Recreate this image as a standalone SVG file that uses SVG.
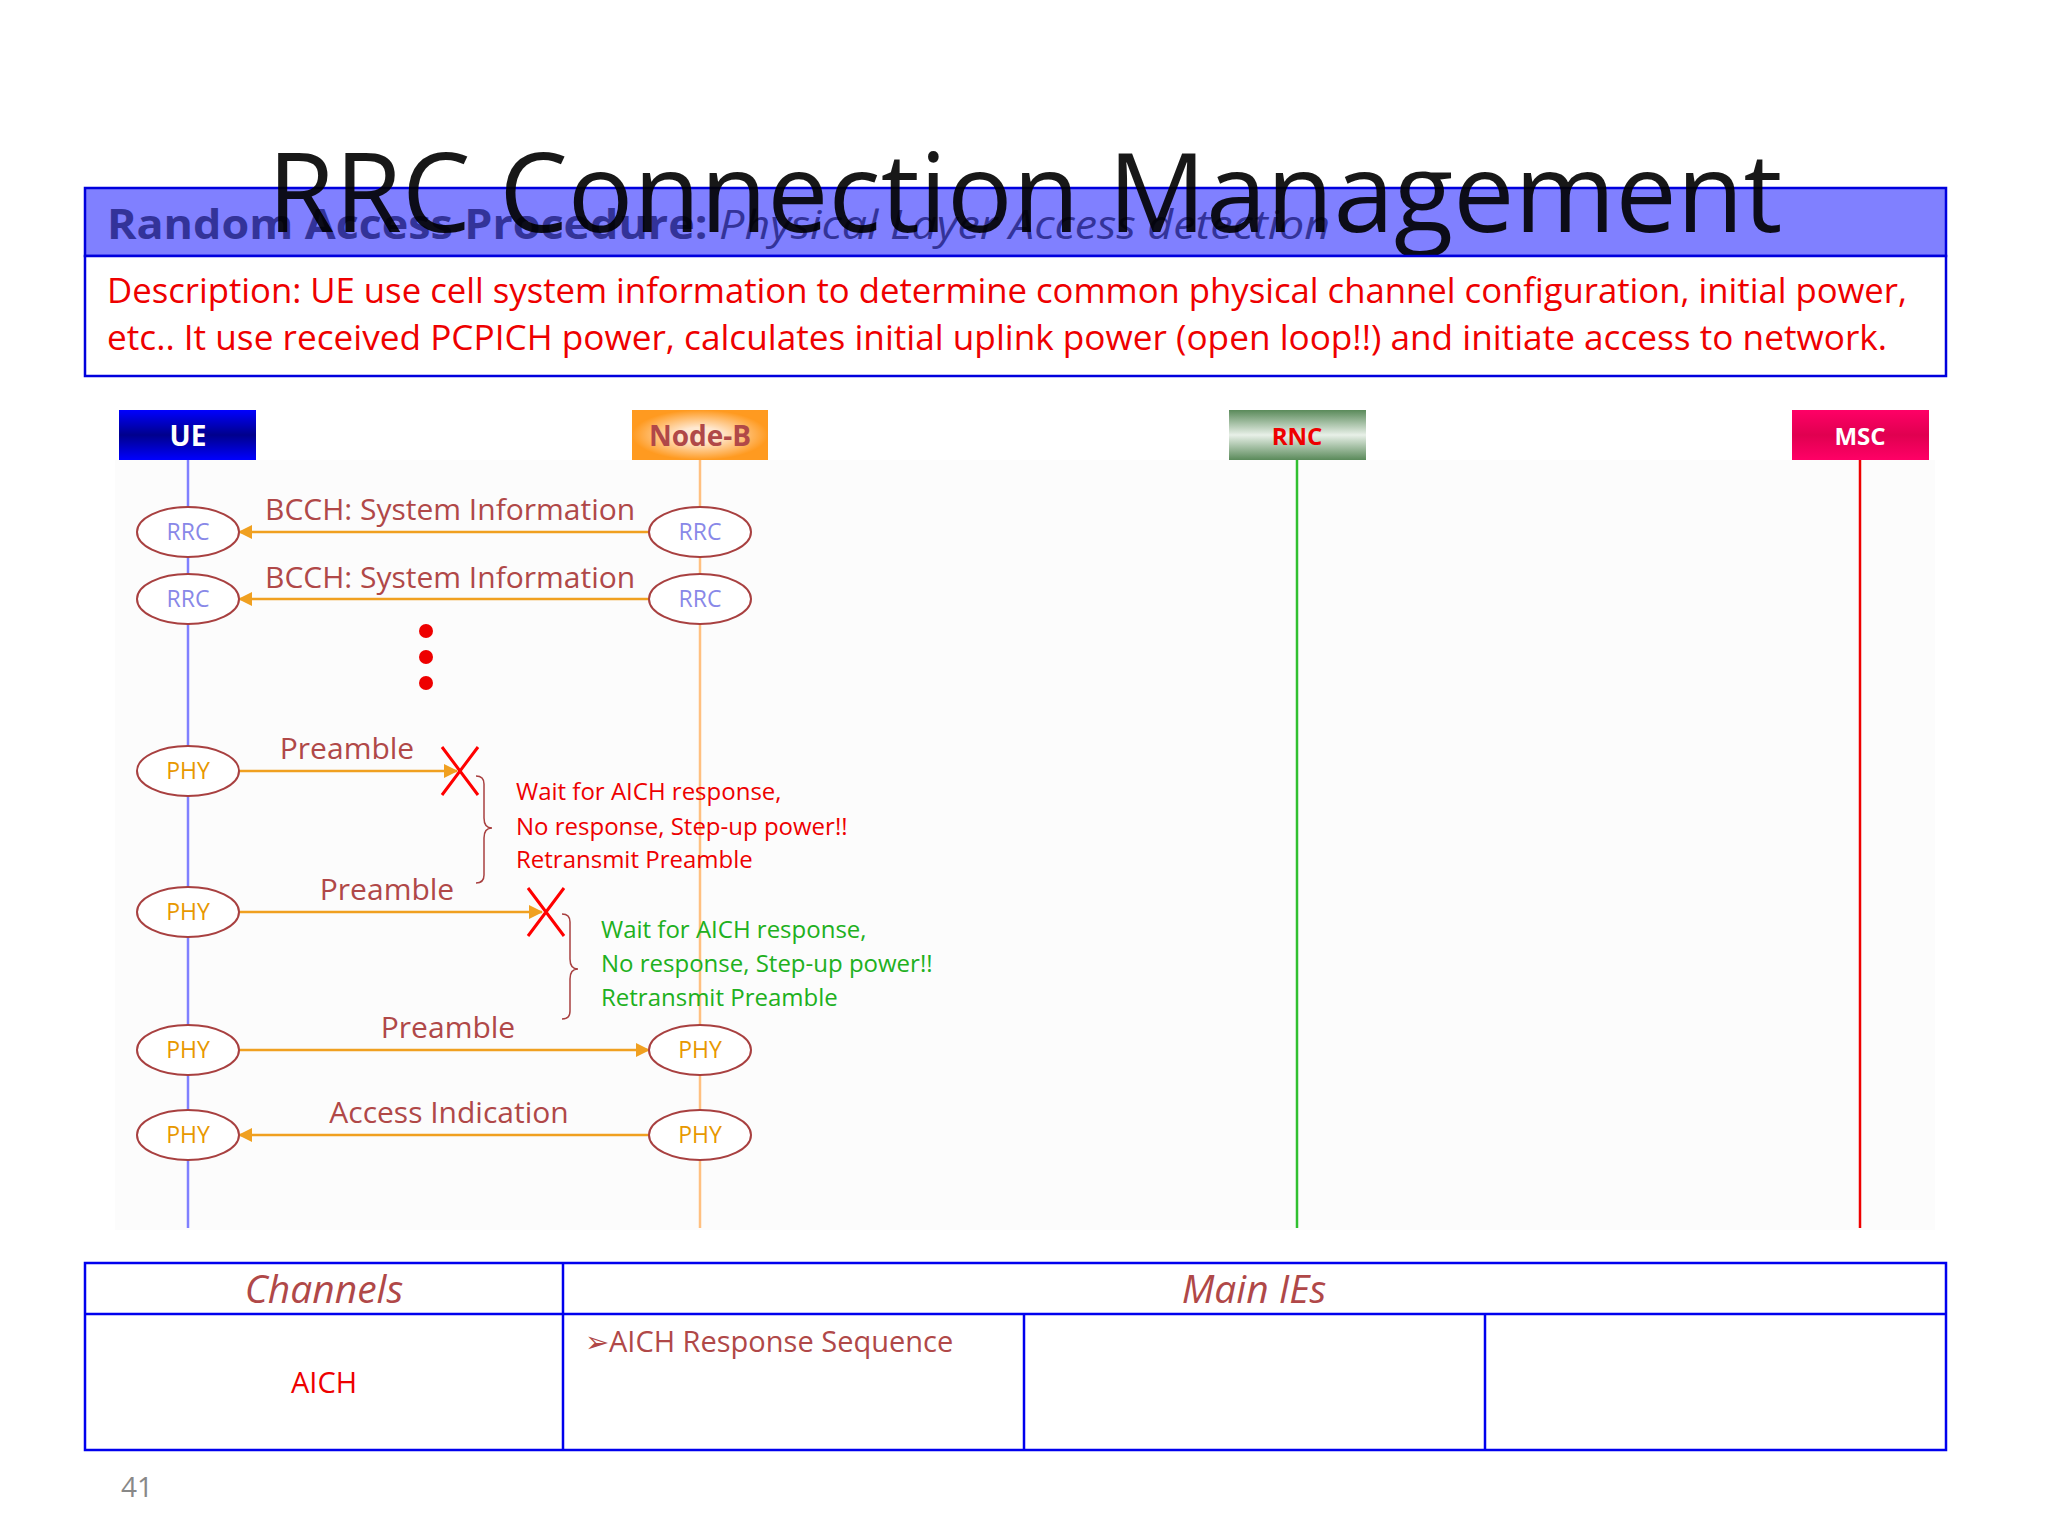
<svg xmlns="http://www.w3.org/2000/svg" width="2048" height="1536" viewBox="0 0 2048 1536">
<defs>
<linearGradient id="gUE" x1="0" y1="0" x2="0" y2="1"><stop offset="0" stop-color="#0000ff"/><stop offset="0.5" stop-color="#00008c"/><stop offset="1" stop-color="#0000ff"/></linearGradient>
<radialGradient id="gNB"><stop offset="0.3" stop-color="#ffe8d0"/><stop offset="1" stop-color="#ff9a20"/></radialGradient>
<linearGradient id="gRNC" x1="0" y1="0" x2="0" y2="1"><stop offset="0" stop-color="#5a8a5a"/><stop offset="0.5" stop-color="#e8f0e8"/><stop offset="1" stop-color="#5a8a5a"/></linearGradient>
<linearGradient id="gMSC" x1="0" y1="0" x2="0" y2="1"><stop offset="0" stop-color="#ff0066"/><stop offset="0.5" stop-color="#e00050"/><stop offset="1" stop-color="#ff0066"/></linearGradient>
<marker id="ah" markerWidth="14" markerHeight="14" refX="13" refY="7" orient="auto" markerUnits="userSpaceOnUse"><path d="M0,0 L14,7 L0,14 z" fill="#f0a020"/></marker>
</defs>
<style>
text{font-family:"Open Sans","Liberation Sans",sans-serif}
.lab{font-size:30px;fill:#b04848}
.el{fill:#fff;stroke:#a84040;stroke-width:2}
.rrc{font-size:23px;fill:#8888e8;text-anchor:middle}
.phy{font-size:23px;fill:#e89800;text-anchor:middle}
.msg{stroke:#f0a020;stroke-width:2.5;fill:none;marker-end:url(#ah)}
.x{stroke:#ff0000;stroke-width:3}
.tb{fill:none;stroke:#0000ee;stroke-width:2.5}
</style>
<rect width="2048" height="1536" fill="#fff"/>
<rect x="115" y="460" width="1820" height="770" fill="#fcfcfc"/>
<rect x="85" y="188" width="1861" height="68" fill="#8080ff" stroke="#0000dd" stroke-width="2.5"/>
<text x="107" y="239" font-size="41" font-weight="bold" fill="#333399" textLength="1223" lengthAdjust="spacingAndGlyphs">Random Access Procedure: <tspan font-weight="normal" font-style="italic">Physical Layer Access detection</tspan></text>
<text x="1025" y="232" font-size="110" text-anchor="middle" fill="#000" textLength="1515" lengthAdjust="spacingAndGlyphs" opacity="0.9">RRC Connection Management</text>
<rect x="85" y="256" width="1861" height="120" fill="#fff" stroke="#0000dd" stroke-width="2.5"/>
<text x="107" y="303" font-size="35" fill="#ee0000" textLength="1800" lengthAdjust="spacingAndGlyphs">Description: UE use cell system information to determine common physical channel configuration, initial power,</text>
<text x="107" y="350" font-size="35" fill="#ee0000" textLength="1780" lengthAdjust="spacingAndGlyphs">etc..  It use received PCPICH power, calculates initial uplink power (open loop!!) and initiate access to network.</text>

<g id="lifelines">
<line x1="188" y1="460" x2="188" y2="1228" stroke="#8080ff" stroke-width="2.5"/>
<line x1="700" y1="460" x2="700" y2="1228" stroke="#ffc080" stroke-width="2.5"/>
<line x1="1297" y1="460" x2="1297" y2="1228" stroke="#30c030" stroke-width="2.5"/>
<line x1="1860" y1="460" x2="1860" y2="1228" stroke="#ee0000" stroke-width="2.5"/>
</g>
<g id="UE"><rect x="119" y="410" width="137" height="50" fill="url(#gUE)"/><text x="188" y="446" font-size="28" font-weight="bold" fill="#fff" text-anchor="middle">UE</text></g>
<g id="NodeB"><rect x="632" y="410" width="136" height="50" fill="url(#gNB)"/><text x="700" y="446" font-size="28" font-weight="bold" fill="#b04848" text-anchor="middle">Node-B</text></g>
<g id="RNC"><rect x="1229" y="410" width="137" height="50" fill="url(#gRNC)"/><text x="1297" y="445" font-size="24" font-weight="bold" fill="#ee0000" text-anchor="middle">RNC</text></g>
<g id="MSC"><rect x="1792" y="410" width="137" height="50" fill="url(#gMSC)"/><text x="1860" y="445" font-size="24" font-weight="bold" fill="#fff" text-anchor="middle">MSC</text></g>

<g id="connectors">
<line class="msg" x1="649" y1="532" x2="239" y2="532"/>
<line class="msg" x1="649" y1="599" x2="239" y2="599"/>
<line class="msg" x1="239" y1="771" x2="457" y2="771"/>
<line class="msg" x1="239" y1="912" x2="542" y2="912"/>
<line class="msg" x1="239" y1="1050" x2="649" y2="1050"/>
<line class="msg" x1="649" y1="1135" x2="239" y2="1135"/>
</g>

<g id="ue-rrc1"><ellipse class="el" cx="188" cy="532" rx="51" ry="25"/><text class="rrc" x="188" y="540">RRC</text></g>
<g id="nb-rrc1"><ellipse class="el" cx="700" cy="532" rx="51" ry="25" stroke="#f0a020"/><text class="rrc" x="700" y="540">RRC</text></g>
<g id="ue-rrc2"><ellipse class="el" cx="188" cy="599" rx="51" ry="25"/><text class="rrc" x="188" y="607">RRC</text></g>
<g id="nb-rrc2"><ellipse class="el" cx="700" cy="599" rx="51" ry="25" stroke="#f0a020"/><text class="rrc" x="700" y="607">RRC</text></g>
<g id="ue-phy1"><ellipse class="el" cx="188" cy="771" rx="51" ry="25"/><text class="phy" x="188" y="779">PHY</text></g>
<g id="ue-phy2"><ellipse class="el" cx="188" cy="912" rx="51" ry="25"/><text class="phy" x="188" y="920">PHY</text></g>
<g id="ue-phy3"><ellipse class="el" cx="188" cy="1050" rx="51" ry="25"/><text class="phy" x="188" y="1058">PHY</text></g>
<g id="nb-phy3"><ellipse class="el" cx="700" cy="1050" rx="51" ry="25" stroke="#f0a020"/><text class="phy" x="700" y="1058">PHY</text></g>
<g id="ue-phy4"><ellipse class="el" cx="188" cy="1135" rx="51" ry="25"/><text class="phy" x="188" y="1143">PHY</text></g>
<g id="nb-phy4"><ellipse class="el" cx="700" cy="1135" rx="51" ry="25" stroke="#f0a020"/><text class="phy" x="700" y="1143">PHY</text></g>

<text class="lab" x="265" y="520">BCCH: System Information</text>
<text class="lab" x="265" y="588">BCCH: System Information</text>
<circle cx="426" cy="631" r="7" fill="#ee0000"/><circle cx="426" cy="657" r="7" fill="#ee0000"/><circle cx="426" cy="683" r="7" fill="#ee0000"/>
<text class="lab" x="347" y="759" text-anchor="middle">Preamble</text>
<text class="lab" x="387" y="900" text-anchor="middle">Preamble</text>
<text class="lab" x="448" y="1038" text-anchor="middle">Preamble</text>
<text class="lab" x="449" y="1123" text-anchor="middle">Access Indication</text>

<path class="x" d="M442,747 L478,795 M478,747 L442,795"/>
<path class="x" d="M528,888 L564,936 M564,888 L528,936"/>
<path d="M476,776 q8,0 8,8 v34 q0,10 8,10 q-8,0 -8,10 v37 q0,8 -8,8" fill="none" stroke="#a84040" stroke-width="1.5"/>
<path d="M562,914 q8,0 8,8 v37 q0,10 8,10 q-8,0 -8,10 v32 q0,8 -8,8" fill="none" stroke="#a84040" stroke-width="1.5"/>
<g font-size="24" fill="#ee0000"><text x="516" y="800">Wait for AICH response,</text><text x="516" y="835">No response, Step-up power!!</text><text x="516" y="868">Retransmit Preamble</text></g>
<g font-size="24" fill="#20b020"><text x="601" y="938">Wait for AICH response,</text><text x="601" y="972">No response, Step-up power!!</text><text x="601" y="1006">Retransmit Preamble</text></g>

<g id="table">
<rect class="tb" x="85" y="1263" width="1861" height="187"/>
<line class="tb" x1="85" y1="1314" x2="1946" y2="1314"/>
<line class="tb" x1="563" y1="1263" x2="563" y2="1450"/>
<line class="tb" x1="1024" y1="1314" x2="1024" y2="1450"/>
<line class="tb" x1="1485" y1="1314" x2="1485" y2="1450"/>
<text x="324" y="1303" font-size="39" font-style="italic" fill="#b04848" text-anchor="middle">Channels</text>
<text x="1254" y="1303" font-size="39" font-style="italic" fill="#b04848" text-anchor="middle">Main IEs</text>
<text x="324" y="1393" font-size="29" fill="#ee0000" text-anchor="middle">AICH</text>
<text x="585" y="1352" font-size="29" fill="#b04848">➢AICH Response Sequence</text>
</g>
<text x="121" y="1497" font-size="28" fill="#888">41</text>
</svg>
